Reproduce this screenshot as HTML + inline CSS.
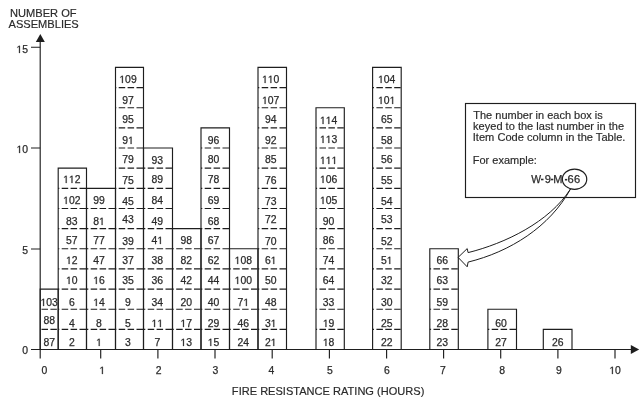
<!DOCTYPE html>
<html><head><meta charset="utf-8"><style>
html,body{margin:0;padding:0;background:#fff;}
svg{display:block;will-change:transform;}
text{font-family:"Liberation Sans",sans-serif;font-size:10.4px;fill:#2b2b2b;stroke:#2b2b2b;stroke-width:0.25;text-anchor:middle;}
.s{fill:none;stroke:#1e1e1e;stroke-width:1.15;}
.d{fill:none;stroke:#1e1e1e;stroke-width:1.15;stroke-dasharray:6.5 2.4;stroke-dashoffset:8.4;}
.l{fill:none;stroke:#1e1e1e;stroke-width:1;}
.lb{text-anchor:start;stroke-width:0.17;}
.one{fill:#2b2b2b;stroke:#2b2b2b;stroke-width:49;}
</style></head><body>
<svg width="644" height="401" viewBox="0 0 644 401">
<rect width="644" height="401" fill="#fff"/>
<path d="M40.2 358.5V41" class="s"/>
<path d="M40.3 34 L35.8 42 L44.8 42 Z" fill="#1e1e1e"/>
<path d="M31 349.5H632" class="s"/>
<path d="M639.2 349.5 L630.8 345 L630.8 354 Z" fill="#1e1e1e"/>
<path d="M31 47.2H40.2M31 148H40.2M31 249H40.2" class="s"/>
<path d="M100.7 349.5V358.5M157.9 349.5V358.5M215 349.5V358.5M272.2 349.5V358.5M329.4 349.5V358.5M386.6 349.5V358.5M443.6 349.5V358.5M500.7 349.5V358.5M557.9 349.5V358.5M615 349.5V358.5" class="s"/>
<text x="22.15" y="53.00"> 5</text><path d="M515 0V1237L197 1010V1180L530 1409H696V0Z" transform="translate(16.37 53) scale(0.00508 -0.00508)" class="one"/>
<text x="22.30" y="153.00"> 0</text><path d="M515 0V1237L197 1010V1180L530 1409H696V0Z" transform="translate(16.52 153) scale(0.00508 -0.00508)" class="one"/>
<text x="25.10" y="254.00">5</text>
<text x="25.10" y="354.00">0</text>
<text x="44.45" y="374.00">0</text>
<text x="102.20" y="374.00"> </text><path d="M515 0V1237L197 1010V1180L530 1409H696V0Z" transform="translate(99.31 374) scale(0.00508 -0.00508)" class="one"/>
<text x="158.60" y="374.00">2</text>
<text x="215.35" y="374.00">3</text>
<text x="271.40" y="374.00">4</text>
<text x="329.90" y="374.00">5</text>
<text x="386.90" y="374.00">6</text>
<text x="443.00" y="374.00">7</text>
<text x="502.05" y="374.00">8</text>
<text x="558.90" y="374.00">9</text>
<text x="615.10" y="374.00"> 0</text><path d="M515 0V1237L197 1010V1180L530 1409H696V0Z" transform="translate(609.32 374) scale(0.00508 -0.00508)" class="one"/>
<text x="10.07" y="16.5" textLength="66.55" lengthAdjust="spacingAndGlyphs" class="lb">NUMBER OF</text>
<text x="8.50" y="28" textLength="70.27" lengthAdjust="spacingAndGlyphs" class="lb">ASSEMBLIES</text>
<text x="231.88" y="394.8" textLength="192.45" lengthAdjust="spacingAndGlyphs" class="lb">FIRE RESISTANCE RATING (HOURS)</text>
<text x="473.30" y="118.8" textLength="129.52" lengthAdjust="spacingAndGlyphs" class="lb">The number in each box is</text>
<text x="473.08" y="129.8" textLength="151.00" lengthAdjust="spacingAndGlyphs" class="lb">keyed to the last number in the</text>
<text x="472.75" y="140.8" textLength="152.72" lengthAdjust="spacingAndGlyphs" class="lb">Item Code column in the Table.</text>
<text x="472.79" y="163.9" textLength="64.07" lengthAdjust="spacingAndGlyphs" class="lb">For example:</text>
<path d="M40.2 349.5V289.05H58.2V349.5" class="s"/>
<line x1="58.2" y1="329.35" x2="40.2" y2="329.35" class="d" style="stroke-dashoffset:7.6"/>
<line x1="58.2" y1="309.20" x2="40.2" y2="309.20" class="d" style="stroke-dashoffset:7.6"/>
<text x="49.20" y="346.00">87</text>
<text x="49.20" y="324.20">88</text>
<text x="49.20" y="305.80"> 03</text><path d="M515 0V1237L197 1010V1180L530 1409H696V0Z" transform="translate(40.52 306) scale(0.00508 -0.00508)" class="one"/>
<path d="M58.2 349.5V168.15H86.5V349.5" class="s"/>
<line x1="86.5" y1="329.35" x2="58.2" y2="329.35" class="d"/>
<line x1="86.5" y1="309.20" x2="58.2" y2="309.20" class="d"/>
<line x1="86.5" y1="289.05" x2="58.2" y2="289.05" class="d"/>
<line x1="86.5" y1="268.90" x2="58.2" y2="268.90" class="d"/>
<line x1="86.5" y1="248.75" x2="58.2" y2="248.75" class="d"/>
<line x1="86.5" y1="228.60" x2="58.2" y2="228.60" class="d"/>
<line x1="86.5" y1="208.45" x2="58.2" y2="208.45" class="d"/>
<line x1="86.5" y1="188.30" x2="58.2" y2="188.30" class="d"/>
<text x="71.80" y="346.00">2</text>
<text x="71.80" y="327.25">4</text>
<text x="71.80" y="306.20">6</text>
<text x="71.80" y="284.05"> 0</text><path d="M515 0V1237L197 1010V1180L530 1409H696V0Z" transform="translate(66.02 284) scale(0.00508 -0.00508)" class="one"/>
<text x="71.80" y="264.30"> 2</text><path d="M515 0V1237L197 1010V1180L530 1409H696V0Z" transform="translate(66.02 264) scale(0.00508 -0.00508)" class="one"/>
<text x="71.80" y="244.40">57</text>
<text x="71.80" y="225.35">83</text>
<text x="71.80" y="204.30"> 02</text><path d="M515 0V1237L197 1010V1180L530 1409H696V0Z" transform="translate(63.12 204) scale(0.00508 -0.00508)" class="one"/>
<text x="71.80" y="182.80">  2</text><path d="M515 0V1237L197 1010V1180L530 1409H696V0Z" transform="translate(63.12 183) scale(0.00508 -0.00508)" class="one"/><path d="M515 0V1237L197 1010V1180L530 1409H696V0Z" transform="translate(68.91 183) scale(0.00508 -0.00508)" class="one"/>
<path d="M86.5 349.5V188.30H115.5V349.5" class="s"/>
<line x1="115.5" y1="329.35" x2="86.5" y2="329.35" class="d"/>
<line x1="115.5" y1="309.20" x2="86.5" y2="309.20" class="d"/>
<line x1="115.5" y1="289.05" x2="86.5" y2="289.05" class="d"/>
<line x1="115.5" y1="268.90" x2="86.5" y2="268.90" class="d"/>
<line x1="115.5" y1="248.75" x2="86.5" y2="248.75" class="d"/>
<line x1="115.5" y1="228.60" x2="86.5" y2="228.60" class="d"/>
<line x1="115.5" y1="208.45" x2="86.5" y2="208.45" class="d"/>
<text x="99.01" y="346.00"> </text><path d="M515 0V1237L197 1010V1180L530 1409H696V0Z" transform="translate(96.12 346) scale(0.00508 -0.00508)" class="one"/>
<text x="99.01" y="327.25">8</text>
<text x="99.01" y="306.20"> 4</text><path d="M515 0V1237L197 1010V1180L530 1409H696V0Z" transform="translate(93.23 306) scale(0.00508 -0.00508)" class="one"/>
<text x="99.01" y="284.05"> 6</text><path d="M515 0V1237L197 1010V1180L530 1409H696V0Z" transform="translate(93.23 284) scale(0.00508 -0.00508)" class="one"/>
<text x="99.01" y="264.30">47</text>
<text x="99.01" y="244.40">77</text>
<text x="99.01" y="225.35">8 </text><path d="M515 0V1237L197 1010V1180L530 1409H696V0Z" transform="translate(99.01 225) scale(0.00508 -0.00508)" class="one"/>
<text x="99.01" y="204.30">99</text>
<path d="M115.5 349.5V67.40H143.5V349.5" class="s"/>
<line x1="143.5" y1="329.35" x2="115.5" y2="329.35" class="d"/>
<line x1="143.5" y1="309.20" x2="115.5" y2="309.20" class="d"/>
<line x1="143.5" y1="289.05" x2="115.5" y2="289.05" class="d"/>
<line x1="143.5" y1="268.90" x2="115.5" y2="268.90" class="d"/>
<line x1="143.5" y1="248.75" x2="115.5" y2="248.75" class="d"/>
<line x1="143.5" y1="228.60" x2="115.5" y2="228.60" class="d"/>
<line x1="143.5" y1="208.45" x2="115.5" y2="208.45" class="d"/>
<line x1="143.5" y1="188.30" x2="115.5" y2="188.30" class="d"/>
<line x1="143.5" y1="168.15" x2="115.5" y2="168.15" class="d"/>
<line x1="143.5" y1="148.00" x2="115.5" y2="148.00" class="d"/>
<line x1="143.5" y1="127.85" x2="115.5" y2="127.85" class="d"/>
<line x1="143.5" y1="107.70" x2="115.5" y2="107.70" class="d"/>
<line x1="143.5" y1="87.55" x2="115.5" y2="87.55" class="d"/>
<text x="128.00" y="346.00">3</text>
<text x="128.00" y="327.25">5</text>
<text x="128.00" y="306.20">9</text>
<text x="128.00" y="284.20">35</text>
<text x="128.00" y="264.10">37</text>
<text x="128.00" y="245.20">39</text>
<text x="128.00" y="223.00">43</text>
<text x="128.00" y="205.15">45</text>
<text x="128.00" y="184.00">75</text>
<text x="128.00" y="163.20">79</text>
<text x="128.00" y="144.10">9 </text><path d="M515 0V1237L197 1010V1180L530 1409H696V0Z" transform="translate(128.00 144) scale(0.00508 -0.00508)" class="one"/>
<text x="128.00" y="123.20">95</text>
<text x="128.00" y="104.10">97</text>
<text x="128.00" y="83.10"> 09</text><path d="M515 0V1237L197 1010V1180L530 1409H696V0Z" transform="translate(119.32 83) scale(0.00508 -0.00508)" class="one"/>
<path d="M143.5 349.5V148.00H172.5V349.5" class="s"/>
<line x1="172.5" y1="329.35" x2="143.5" y2="329.35" class="d"/>
<line x1="172.5" y1="309.20" x2="143.5" y2="309.20" class="d"/>
<line x1="172.5" y1="289.05" x2="143.5" y2="289.05" class="d"/>
<line x1="172.5" y1="268.90" x2="143.5" y2="268.90" class="d"/>
<line x1="172.5" y1="248.75" x2="143.5" y2="248.75" class="d"/>
<line x1="172.5" y1="228.60" x2="143.5" y2="228.60" class="d"/>
<line x1="172.5" y1="208.45" x2="143.5" y2="208.45" class="d"/>
<line x1="172.5" y1="188.30" x2="143.5" y2="188.30" class="d"/>
<line x1="172.5" y1="168.15" x2="143.5" y2="168.15" class="d"/>
<text x="157.30" y="346.00">7</text>
<text x="157.30" y="327.25">  </text><path d="M515 0V1237L197 1010V1180L530 1409H696V0Z" transform="translate(151.52 327) scale(0.00508 -0.00508)" class="one"/><path d="M515 0V1237L197 1010V1180L530 1409H696V0Z" transform="translate(157.30 327) scale(0.00508 -0.00508)" class="one"/>
<text x="157.30" y="306.20">34</text>
<text x="157.30" y="284.05">36</text>
<text x="157.30" y="264.30">38</text>
<text x="157.30" y="244.40">4 </text><path d="M515 0V1237L197 1010V1180L530 1409H696V0Z" transform="translate(157.30 244) scale(0.00508 -0.00508)" class="one"/>
<text x="157.30" y="225.35">49</text>
<text x="157.30" y="204.30">84</text>
<text x="157.30" y="183.10">89</text>
<text x="157.30" y="164.35">93</text>
<path d="M172.5 349.5V228.60H201.0V349.5" class="s"/>
<line x1="201.0" y1="329.35" x2="172.5" y2="329.35" class="d"/>
<line x1="201.0" y1="309.20" x2="172.5" y2="309.20" class="d"/>
<line x1="201.0" y1="289.05" x2="172.5" y2="289.05" class="d"/>
<line x1="201.0" y1="268.90" x2="172.5" y2="268.90" class="d"/>
<line x1="201.0" y1="248.75" x2="172.5" y2="248.75" class="d"/>
<text x="186.18" y="346.00"> 3</text><path d="M515 0V1237L197 1010V1180L530 1409H696V0Z" transform="translate(180.40 346) scale(0.00508 -0.00508)" class="one"/>
<text x="186.18" y="327.25"> 7</text><path d="M515 0V1237L197 1010V1180L530 1409H696V0Z" transform="translate(180.40 327) scale(0.00508 -0.00508)" class="one"/>
<text x="186.18" y="306.20">20</text>
<text x="186.18" y="284.05">42</text>
<text x="186.18" y="264.30">82</text>
<text x="186.18" y="244.40">98</text>
<path d="M201.0 349.5V127.85H229.5V349.5" class="s"/>
<line x1="229.5" y1="329.35" x2="201.0" y2="329.35" class="d"/>
<line x1="229.5" y1="309.20" x2="201.0" y2="309.20" class="d"/>
<line x1="229.5" y1="289.05" x2="201.0" y2="289.05" class="d"/>
<line x1="229.5" y1="268.90" x2="201.0" y2="268.90" class="d"/>
<line x1="229.5" y1="248.75" x2="201.0" y2="248.75" class="d"/>
<line x1="229.5" y1="228.60" x2="201.0" y2="228.60" class="d"/>
<line x1="229.5" y1="208.45" x2="201.0" y2="208.45" class="d"/>
<line x1="229.5" y1="188.30" x2="201.0" y2="188.30" class="d"/>
<line x1="229.5" y1="168.15" x2="201.0" y2="168.15" class="d"/>
<line x1="229.5" y1="148.00" x2="201.0" y2="148.00" class="d"/>
<text x="213.50" y="346.00"> 5</text><path d="M515 0V1237L197 1010V1180L530 1409H696V0Z" transform="translate(207.72 346) scale(0.00508 -0.00508)" class="one"/>
<text x="213.50" y="327.25">29</text>
<text x="213.50" y="306.20">40</text>
<text x="213.50" y="284.05">44</text>
<text x="213.50" y="264.30">62</text>
<text x="213.50" y="244.40">67</text>
<text x="213.50" y="225.35">68</text>
<text x="213.50" y="204.30">69</text>
<text x="213.50" y="183.10">78</text>
<text x="213.50" y="163.05">80</text>
<text x="213.50" y="144.15">96</text>
<path d="M229.5 349.5V248.75H258.0V349.5" class="s"/>
<line x1="258.0" y1="329.35" x2="229.5" y2="329.35" class="d"/>
<line x1="258.0" y1="309.20" x2="229.5" y2="309.20" class="d"/>
<line x1="258.0" y1="289.05" x2="229.5" y2="289.05" class="d"/>
<line x1="258.0" y1="268.90" x2="229.5" y2="268.90" class="d"/>
<text x="243.30" y="346.00">24</text>
<text x="243.30" y="327.25">46</text>
<text x="243.30" y="306.20">7 </text><path d="M515 0V1237L197 1010V1180L530 1409H696V0Z" transform="translate(243.30 306) scale(0.00508 -0.00508)" class="one"/>
<text x="243.30" y="284.10"> 00</text><path d="M515 0V1237L197 1010V1180L530 1409H696V0Z" transform="translate(234.62 284) scale(0.00508 -0.00508)" class="one"/>
<text x="243.30" y="264.25"> 08</text><path d="M515 0V1237L197 1010V1180L530 1409H696V0Z" transform="translate(234.62 264) scale(0.00508 -0.00508)" class="one"/>
<path d="M258.0 349.5V67.40H286.5V349.5" class="s"/>
<line x1="286.5" y1="329.35" x2="258.0" y2="329.35" class="d"/>
<line x1="286.5" y1="309.20" x2="258.0" y2="309.20" class="d"/>
<line x1="286.5" y1="289.05" x2="258.0" y2="289.05" class="d"/>
<line x1="286.5" y1="268.90" x2="258.0" y2="268.90" class="d"/>
<line x1="286.5" y1="248.75" x2="258.0" y2="248.75" class="d"/>
<line x1="286.5" y1="228.60" x2="258.0" y2="228.60" class="d"/>
<line x1="286.5" y1="208.45" x2="258.0" y2="208.45" class="d"/>
<line x1="286.5" y1="188.30" x2="258.0" y2="188.30" class="d"/>
<line x1="286.5" y1="168.15" x2="258.0" y2="168.15" class="d"/>
<line x1="286.5" y1="148.00" x2="258.0" y2="148.00" class="d"/>
<line x1="286.5" y1="127.85" x2="258.0" y2="127.85" class="d"/>
<line x1="286.5" y1="107.70" x2="258.0" y2="107.70" class="d"/>
<line x1="286.5" y1="87.55" x2="258.0" y2="87.55" class="d"/>
<text x="270.70" y="346.00">2 </text><path d="M515 0V1237L197 1010V1180L530 1409H696V0Z" transform="translate(270.70 346) scale(0.00508 -0.00508)" class="one"/>
<text x="270.70" y="327.25">3 </text><path d="M515 0V1237L197 1010V1180L530 1409H696V0Z" transform="translate(270.70 327) scale(0.00508 -0.00508)" class="one"/>
<text x="270.70" y="306.20">48</text>
<text x="270.70" y="284.20">50</text>
<text x="270.70" y="264.10">6 </text><path d="M515 0V1237L197 1010V1180L530 1409H696V0Z" transform="translate(270.70 264) scale(0.00508 -0.00508)" class="one"/>
<text x="270.70" y="245.20">70</text>
<text x="270.70" y="223.00">72</text>
<text x="270.70" y="205.15">73</text>
<text x="270.70" y="184.00">76</text>
<text x="270.70" y="163.20">85</text>
<text x="270.70" y="144.10">92</text>
<text x="270.70" y="123.20">94</text>
<text x="270.70" y="104.10"> 07</text><path d="M515 0V1237L197 1010V1180L530 1409H696V0Z" transform="translate(262.02 104) scale(0.00508 -0.00508)" class="one"/>
<text x="270.70" y="83.10">  0</text><path d="M515 0V1237L197 1010V1180L530 1409H696V0Z" transform="translate(262.02 83) scale(0.00508 -0.00508)" class="one"/><path d="M515 0V1237L197 1010V1180L530 1409H696V0Z" transform="translate(267.81 83) scale(0.00508 -0.00508)" class="one"/>
<path d="M316.0 349.5V107.70H344.3V349.5" class="s"/>
<line x1="344.3" y1="329.35" x2="316.0" y2="329.35" class="d"/>
<line x1="344.3" y1="309.20" x2="316.0" y2="309.20" class="d"/>
<line x1="344.3" y1="289.05" x2="316.0" y2="289.05" class="d"/>
<line x1="344.3" y1="268.90" x2="316.0" y2="268.90" class="d"/>
<line x1="344.3" y1="248.75" x2="316.0" y2="248.75" class="d"/>
<line x1="344.3" y1="228.60" x2="316.0" y2="228.60" class="d"/>
<line x1="344.3" y1="208.45" x2="316.0" y2="208.45" class="d"/>
<line x1="344.3" y1="188.30" x2="316.0" y2="188.30" class="d"/>
<line x1="344.3" y1="168.15" x2="316.0" y2="168.15" class="d"/>
<line x1="344.3" y1="148.00" x2="316.0" y2="148.00" class="d"/>
<line x1="344.3" y1="127.85" x2="316.0" y2="127.85" class="d"/>
<text x="328.64" y="346.00"> 8</text><path d="M515 0V1237L197 1010V1180L530 1409H696V0Z" transform="translate(322.86 346) scale(0.00508 -0.00508)" class="one"/>
<text x="328.64" y="327.25"> 9</text><path d="M515 0V1237L197 1010V1180L530 1409H696V0Z" transform="translate(322.86 327) scale(0.00508 -0.00508)" class="one"/>
<text x="328.64" y="306.20">33</text>
<text x="328.64" y="284.05">64</text>
<text x="328.64" y="264.30">74</text>
<text x="328.64" y="244.40">86</text>
<text x="328.64" y="225.35">90</text>
<text x="328.64" y="204.30"> 05</text><path d="M515 0V1237L197 1010V1180L530 1409H696V0Z" transform="translate(319.96 204) scale(0.00508 -0.00508)" class="one"/>
<text x="328.64" y="183.10"> 06</text><path d="M515 0V1237L197 1010V1180L530 1409H696V0Z" transform="translate(319.96 183) scale(0.00508 -0.00508)" class="one"/>
<text x="328.64" y="164.35">   </text><path d="M515 0V1237L197 1010V1180L530 1409H696V0Z" transform="translate(319.96 164) scale(0.00508 -0.00508)" class="one"/><path d="M515 0V1237L197 1010V1180L530 1409H696V0Z" transform="translate(325.75 164) scale(0.00508 -0.00508)" class="one"/><path d="M515 0V1237L197 1010V1180L530 1409H696V0Z" transform="translate(331.53 164) scale(0.00508 -0.00508)" class="one"/>
<text x="328.64" y="143.20">  3</text><path d="M515 0V1237L197 1010V1180L530 1409H696V0Z" transform="translate(319.96 143) scale(0.00508 -0.00508)" class="one"/><path d="M515 0V1237L197 1010V1180L530 1409H696V0Z" transform="translate(325.75 143) scale(0.00508 -0.00508)" class="one"/>
<text x="328.64" y="124.40">  4</text><path d="M515 0V1237L197 1010V1180L530 1409H696V0Z" transform="translate(319.96 124) scale(0.00508 -0.00508)" class="one"/><path d="M515 0V1237L197 1010V1180L530 1409H696V0Z" transform="translate(325.75 124) scale(0.00508 -0.00508)" class="one"/>
<path d="M372.6 349.5V67.40H401.2V349.5" class="s"/>
<line x1="401.2" y1="329.35" x2="372.6" y2="329.35" class="d"/>
<line x1="401.2" y1="309.20" x2="372.6" y2="309.20" class="d"/>
<line x1="401.2" y1="289.05" x2="372.6" y2="289.05" class="d"/>
<line x1="401.2" y1="268.90" x2="372.6" y2="268.90" class="d"/>
<line x1="401.2" y1="248.75" x2="372.6" y2="248.75" class="d"/>
<line x1="401.2" y1="228.60" x2="372.6" y2="228.60" class="d"/>
<line x1="401.2" y1="208.45" x2="372.6" y2="208.45" class="d"/>
<line x1="401.2" y1="188.30" x2="372.6" y2="188.30" class="d"/>
<line x1="401.2" y1="168.15" x2="372.6" y2="168.15" class="d"/>
<line x1="401.2" y1="148.00" x2="372.6" y2="148.00" class="d"/>
<line x1="401.2" y1="127.85" x2="372.6" y2="127.85" class="d"/>
<line x1="401.2" y1="107.70" x2="372.6" y2="107.70" class="d"/>
<line x1="401.2" y1="87.55" x2="372.6" y2="87.55" class="d"/>
<text x="386.71" y="346.00">22</text>
<text x="386.71" y="327.25">25</text>
<text x="386.71" y="306.20">30</text>
<text x="386.71" y="284.20">32</text>
<text x="386.71" y="264.10">5 </text><path d="M515 0V1237L197 1010V1180L530 1409H696V0Z" transform="translate(386.71 264) scale(0.00508 -0.00508)" class="one"/>
<text x="386.71" y="245.20">52</text>
<text x="386.71" y="223.00">53</text>
<text x="386.71" y="205.15">54</text>
<text x="386.71" y="184.00">55</text>
<text x="386.71" y="163.20">56</text>
<text x="386.71" y="144.10">58</text>
<text x="386.71" y="123.20">65</text>
<text x="386.71" y="104.10"> 0 </text><path d="M515 0V1237L197 1010V1180L530 1409H696V0Z" transform="translate(378.03 104) scale(0.00508 -0.00508)" class="one"/><path d="M515 0V1237L197 1010V1180L530 1409H696V0Z" transform="translate(389.60 104) scale(0.00508 -0.00508)" class="one"/>
<text x="386.71" y="83.10"> 04</text><path d="M515 0V1237L197 1010V1180L530 1409H696V0Z" transform="translate(378.03 83) scale(0.00508 -0.00508)" class="one"/>
<path d="M429.8 349.5V248.75H458.3V349.5" class="s"/>
<line x1="458.3" y1="329.35" x2="429.8" y2="329.35" class="d"/>
<line x1="458.3" y1="309.20" x2="429.8" y2="309.20" class="d"/>
<line x1="458.3" y1="289.05" x2="429.8" y2="289.05" class="d"/>
<line x1="458.3" y1="268.90" x2="429.8" y2="268.90" class="d"/>
<text x="442.20" y="346.00">23</text>
<text x="442.20" y="327.25">28</text>
<text x="442.20" y="306.20">59</text>
<text x="442.20" y="284.10">63</text>
<text x="442.20" y="264.25">66</text>
<path d="M487.9 349.5V309.20H516.5V349.5" class="s"/>
<line x1="516.5" y1="329.35" x2="487.9" y2="329.35" class="d"/>
<text x="501.00" y="346.00">27</text>
<text x="501.00" y="327.25">60</text>
<path d="M543.3 349.5V329.35H572.0V349.5" class="s"/>
<text x="557.75" y="346.00">26</text>
<rect x="465.5" y="103.5" width="170" height="94" class="s"/>
<text x="531.25" y="182.8" style="text-anchor:start">W</text>
<text x="547.75" y="182.8" textLength="6.2" lengthAdjust="spacingAndGlyphs">9</text>
<text x="557.8" y="182.8" textLength="9.2" lengthAdjust="spacingAndGlyphs">M</text>
<text x="570.65" y="182.8" textLength="6.2" lengthAdjust="spacingAndGlyphs">6</text>
<text x="577.15" y="182.8" textLength="6.2" lengthAdjust="spacingAndGlyphs">6</text>
<rect x="541" y="178.7" width="2.5" height="1.6" fill="#2b2b2b"/>
<rect x="551" y="178.7" width="2.3" height="1.6" fill="#2b2b2b"/>
<rect x="564.9" y="178.9" width="2.3" height="1.6" fill="#2b2b2b"/>
<ellipse cx="574.55" cy="179.2" rx="12.2" ry="10.1" class="l" style="stroke-width:1.2"/>
<path d="M468.1 252.6 C505.0 243.4 549.3 222.2 570.5 189.0" class="l"/>
<path d="M468.1 262.1 C509.9 251.8 549.7 227.0 570.5 189.0" class="l"/>
<path d="M468.1 252.6 L467.2 248.6 L458.1 257.4 L467.2 266.8 L468.1 262.1" class="l"/>
</svg>
</body></html>
